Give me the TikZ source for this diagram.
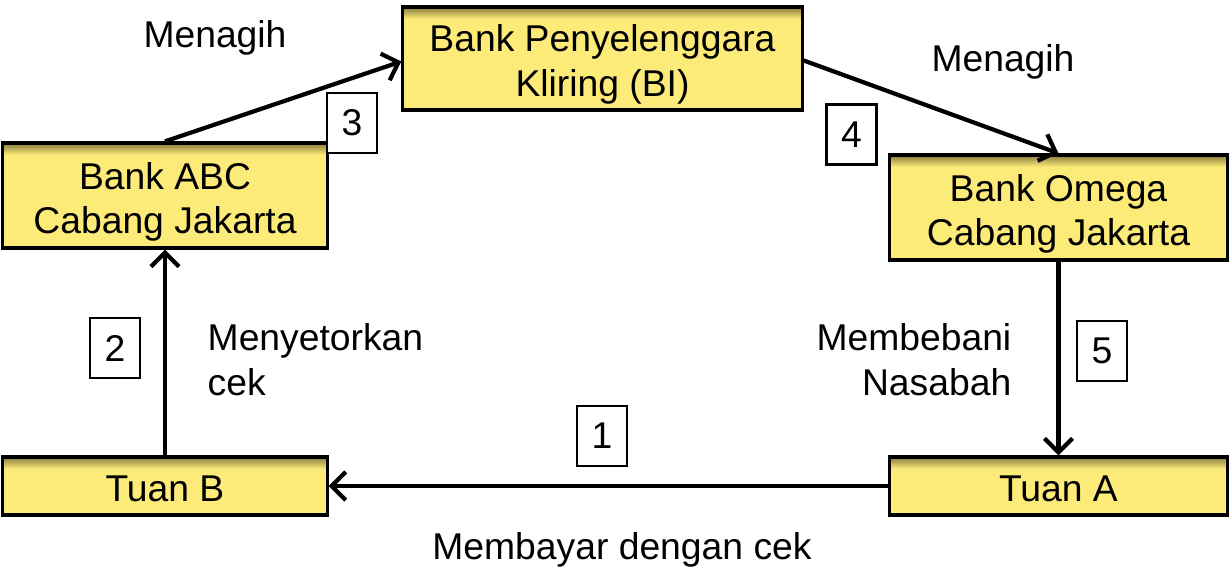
\documentclass[tikz,border=0pt]{standalone}
\usepackage{fontspec}
\setmainfont{Liberation Sans}
\usetikzlibrary{arrows.meta}
\definecolor{boxyellow}{HTML}{FCEB78}
\definecolor{boxshade}{HTML}{857A3E}
\tikzset{
  x=0.01cm, y=-0.01cm,
  ybox/.style={draw=black, line width=0.9pt, fill=boxyellow, inner sep=0pt,
    path picture={\foreach \i in {0,...,11}{%
      \pgfmathsetmacro\p{100-\i*8.5}%
      \fill[boxshade!\p!boxyellow] ([yshift=-\i*0.01cm]path picture bounding box.north west)
        rectangle ([yshift=-\i*0.01cm-0.012cm]path picture bounding box.north east);}}},
  btxt/.style={align=center, inner sep=0pt, font=\fontsize{10.6pt}{12.7pt}\selectfont},
  numbox/.style={draw=black, line width=0.6pt, fill=white, minimum width=0.5cm, minimum height=0.6cm, inner sep=0pt,
    font=\fontsize{10.6pt}{12.7pt}\selectfont},
  lbl/.style={font=\fontsize{10.6pt}{12.7pt}\selectfont, inner sep=0pt},
  conn/.style={line width=1.2pt, -{Straight Barb[length=4pt, width=8pt, line width=1.2pt]}},
}
\begin{document}
\begin{tikzpicture}
\useasboundingbox (0,0) rectangle (1229,580);
\node[ybox, minimum width=3.99cm, minimum height=1.03cm] (bi) at (602.5,58.5) {};
\node[ybox, minimum width=3.24cm, minimum height=1.05cm] (abc) at (165,195.5) {};
\node[ybox, minimum width=3.37cm, minimum height=1.05cm] (omega) at (1058.5,207.5) {};
\node[ybox, minimum width=3.24cm, minimum height=0.58cm] (tb) at (165,486) {};
\node[ybox, minimum width=3.37cm, minimum height=0.58cm] (ta) at (1058.5,486) {};

\node[btxt] (biT) at ([yshift=-0.06cm]bi.center) {Bank Penyelenggara\\Kliring (BI)};
\node[btxt] (abcT) at ([yshift=-0.065cm]abc.center) {Bank ABC\\Cabang Jakarta};
\node[btxt] (omegaT) at ([yshift=-0.065cm]omega.center) {Bank Omega\\Cabang Jakarta};
\node[btxt] (tbT) at ([yshift=-0.03cm]tb.center) {Tuan B};
\node[btxt] (taT) at ([yshift=-0.03cm]ta.center) {Tuan A};

\node[numbox] (n3) at (352,123) {3};
\node[numbox] (n4) at (851.5,134.5) {4};
\node[numbox] (n2) at (115,348) {2};
\node[numbox] (n5) at (1102,351) {5};
\node[numbox] (n1) at (602,436) {1};

\node[lbl] (l1) at (215,38) {Menagih};
\node[lbl] (l2) at (1003,62) {Menagih};
\node[lbl, anchor=west, align=left] (l3) at (207,360) {Menyetorkan\\cek};
\node[lbl, anchor=east, align=right] (l4) at (1012,360) {Membebani\\Nasabah};
\node[lbl] (l5) at (622,550) {Membayar dengan cek};

\coordinate (abcTop) at (abc.north);
\coordinate (biIn) at ([yshift=-0.03cm]bi.west);
\draw[conn] (abcTop) -- (biIn);
\coordinate (biOut) at ([yshift=-0.02cm]bi.east);
\draw[conn] (biOut) -- (omega.north);
\draw[conn] (omega.south) -- (ta.north);
\draw[conn] (ta.west) -- (tb.east);
\draw[conn] (tb.north) -- (abc.south);
\end{tikzpicture}
\end{document}
